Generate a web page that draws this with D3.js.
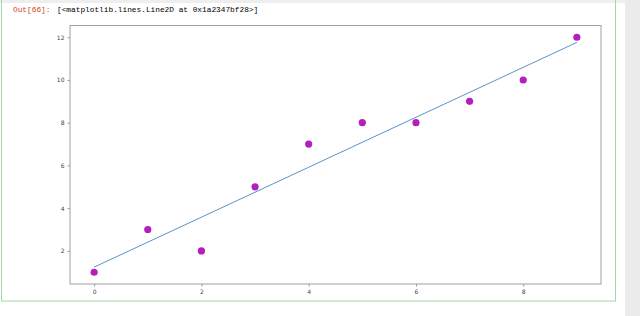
<!DOCTYPE html>
<html><head><meta charset="utf-8">
<script src="https://cdn.jsdelivr.net/npm/d3@7"></script>
<style>html,body{margin:0;padding:0;background:#fff;overflow:hidden}</style>
</head><body>
<script>
const xValues = [0,1,2,3,4,5,6,7,8,9];
const yValues = [1,3,2,5,7,8,8,9,10,12];
const fitX = [0, 9];
const fitY = [1.24, 11.76];
const xTicks = [0,2,4,6,8];
const yTicks = [2,4,6,8,10,12];

const W = 640, H = 316;
const svg = d3.select("body").append("svg").attr("width", W).attr("height", H);

// notebook chrome
svg.append("rect").attr("x",0).attr("y",0).attr("width",W).attr("height",3).attr("fill","#eeeeee");
svg.append("rect").attr("x",625).attr("y",0).attr("width",15).attr("height",H).attr("fill","#ebebeb");
svg.append("rect").attr("x",1.5).attr("y",-2).attr("width",614).attr("height",303)
  .attr("fill","none").attr("stroke","#a5d6a7").attr("stroke-width",1);

svg.append("text").attr("x",13).attr("y",11.5).attr("fill","#d84315")
  .attr("font-family","Liberation Mono, monospace").attr("font-size",7.8).text("Out[66]:");
svg.append("text").attr("x",57).attr("y",11.5).attr("fill","#000")
  .attr("font-family","Liberation Mono, monospace").attr("font-size",7.8)
  .text("[<matplotlib.lines.Line2D at 0x1a2347bf28>]");

const x = d3.scaleLinear().domain([-0.45, 9.45]).range([70, 601]);
const y = d3.scaleLinear().domain([0.45, 12.55]).range([284, 25.5]);

const g = svg.append("g");
const xAxis = g.append("g").attr("transform","translate(0,284)")
  .call(d3.axisBottom(x).tickValues(xTicks).tickSize(2.5).tickPadding(3).tickFormat(d3.format("d")));
const yAxis = g.append("g").attr("transform","translate(70,0)")
  .call(d3.axisLeft(y).tickValues(yTicks).tickSize(2.5).tickPadding(3).tickFormat(d3.format("d")));
[xAxis, yAxis].forEach(a => {
  a.select(".domain").remove();
  a.selectAll(".tick line").attr("stroke","#555").attr("stroke-width",0.6);
  a.selectAll(".tick text").attr("fill","#444").attr("font-family","DejaVu Sans, sans-serif").attr("font-size",6);
});

g.append("rect").attr("x",x(-0.45)).attr("y",y(12.55)).attr("width",x(9.45)-x(-0.45))
  .attr("height",y(0.45)-y(12.55)).attr("fill","none").attr("stroke","#a0a0a0").attr("stroke-width",1);

g.append("path").datum(fitX.map((d,i)=>[d, fitY[i]]))
  .attr("d", d3.line().x(d=>x(d[0])).y(d=>y(d[1])))
  .attr("fill","none").attr("stroke","#5b93c9").attr("stroke-width",1);

g.selectAll("circle").data(xValues).join("circle")
  .attr("cx", d=>x(d)).attr("cy", (d,i)=>y(yValues[i])).attr("r",3.6).attr("fill","#b21fbb");
</script>
</body></html>
